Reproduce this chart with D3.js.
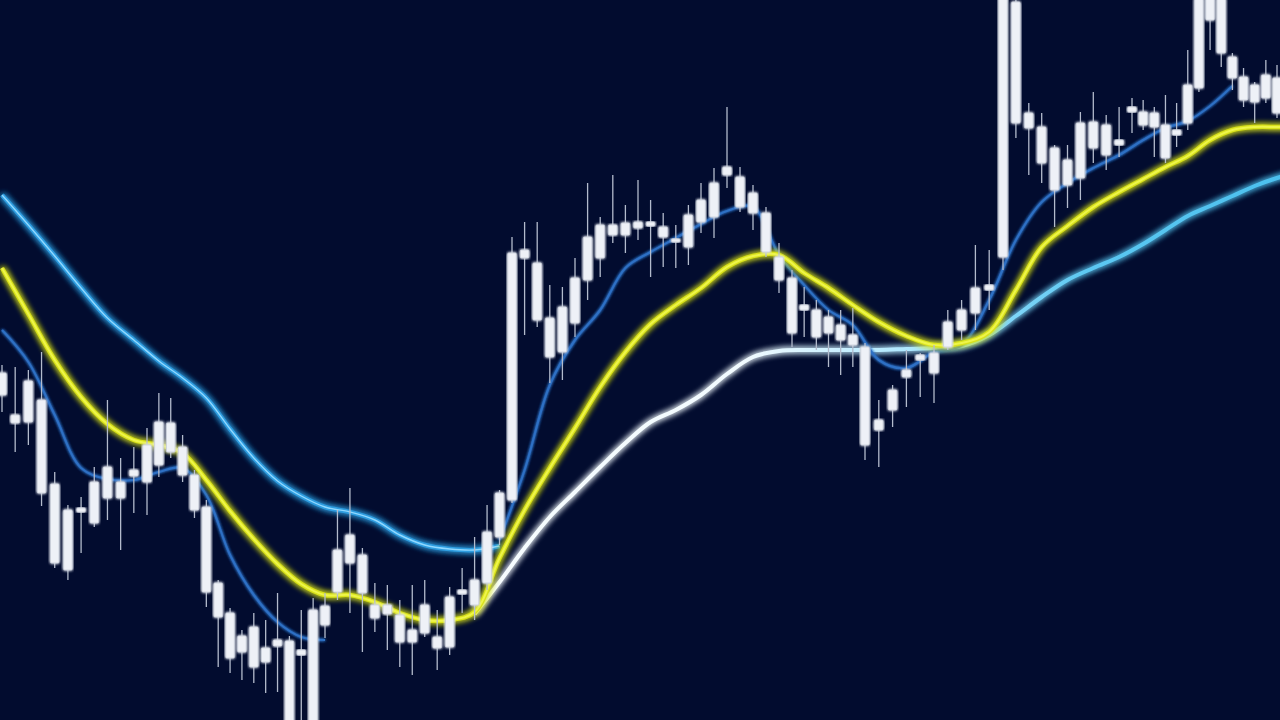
<!DOCTYPE html>
<html>
<head>
<meta charset="utf-8">
<script src="https://cdn.jsdelivr.net/npm/d3@7/dist/d3.min.js"></script>
<style>
  html, body { margin: 0; padding: 0; background: #020c2f; overflow: hidden; }
  svg { display: block; }
</style>
</head>
<body>
<svg id="chart" width="1280" height="720"></svg>
<script>
// ---------------- DATA ----------------
// Candles (one per period, in order)
const highs = [135.5,135.3,135.0,136.8,124.8,121.5,122.3,125.3,132.0,126.2,127.3,129.2,132.7,132.2,128.5,125.0,122.0,114.0,111.2,109.0,110.7,110.0,112.7,108.4,111.0,112.2,112.7,121.0,123.2,117.2,113.7,113.5,112.0,113.5,114.0,111.0,113.3,115.2,118.3,121.5,123.0,148.3,149.8,149.8,143.5,143.3,146.2,153.7,150.3,154.5,151.5,154.0,152.0,150.7,149.5,151.5,153.7,155.2,161.3,155.3,153.5,151.3,147.7,145.0,143.3,142.0,141.0,141.0,141.2,137.7,132.0,133.5,137.0,136.7,137.5,141.0,142.0,147.5,147.0,172.5,172.5,161.7,160.7,157.5,157.5,160.8,162.8,160.5,161.3,162.2,162.0,161.3,162.5,161.7,167.0,172.5,172.5,172.5,166.7,165.2,163.8,166.0,165.5];
const lows  = [130.8,126.8,127.5,121.4,115.2,114.0,116.7,119.3,120.0,117.0,120.7,120.5,124.3,126.2,123.8,120.2,111.3,105.3,104.7,104.0,103.7,102.7,102.8,99.0,99.5,99.0,108.2,112.0,110.7,106.8,108.8,107.0,105.3,104.5,108.3,105.0,106.5,110.7,110.0,113.0,117.5,121.7,138.5,139.3,133.7,134.0,138.3,142.0,144.3,147.7,146.7,148.0,144.3,145.3,145.2,145.5,148.7,148.2,153.2,150.8,149.0,146.3,142.7,137.3,138.3,137.0,135.3,134.5,135.3,126.0,125.3,129.3,131.3,132.3,131.7,137.0,138.0,139.0,141.0,145.0,158.2,154.5,153.7,149.3,151.2,152.0,155.7,155.0,156.3,158.7,159.0,156.3,155.7,157.3,159.0,162.8,167.0,165.3,163.0,161.3,159.7,161.7,160.2];
const opens = [132.5,129.7,129.8,132.0,123.6,121.0,120.8,119.7,122.2,123.8,124.4,123.8,125.5,126.8,127.3,124.5,121.3,113.7,110.7,108.4,109.3,107.2,107.4,107.9,106.5,111.0,109.5,112.8,115.7,116.5,111.5,111.5,110.5,109.0,108.7,108.3,107.3,112.6,111.5,113.7,118.3,122.0,146.2,140.0,140.2,141.3,139.7,144.0,146.2,148.5,148.5,149.2,149.4,148.3,147.8,147.3,149.8,150.3,154.5,151.3,150.7,150.7,146.3,144.2,141.0,141.0,140.3,139.5,137.5,137.3,130.0,131.0,134.3,136.0,134.7,137.3,139.0,140.7,143.0,146.3,171.8,159.2,159.3,157.2,153.5,154.2,157.2,156.5,157.5,160.8,159.5,159.3,159.5,158.5,159.7,163.2,170.0,172.2,166.3,164.3,161.8,162.2,160.7];
const closes = [134.7,130.5,133.9,122.7,115.7,115.0,121.2,123.8,125.3,122.2,125.0,127.5,129.8,129.7,124.5,121.0,112.8,110.3,106.2,106.8,105.3,105.8,108.0,99.5,107.0,99.5,111.4,117.0,118.5,112.7,110.2,110.6,107.8,107.8,111.5,107.2,112.3,113.0,114.0,118.8,122.7,146.7,147.0,145.7,136.3,136.8,144.2,148.3,149.5,149.5,149.7,149.8,149.8,149.3,148.1,150.5,152.0,153.7,155.3,154.3,152.7,146.8,144.0,138.7,141.5,138.3,138.7,138.0,138.5,127.5,129.0,133.0,135.0,136.5,136.7,139.8,141.0,143.2,143.5,172.5,159.7,160.7,155.7,153.0,156.0,159.7,159.8,159.5,158.0,161.3,160.8,160.7,156.2,159.0,163.5,172.2,172.5,166.7,164.2,162.0,163.5,164.5,164.2];

// Moving averages, sampled at these candle positions
const maIndex = [0,2,4,6,8,10,12,14,16,18,20,22,24,26,28,30,32,34,36,38,40,42,44,46,48,50,52,54,56,58,60,62,64,66,68,70,72,74,76,78,80,82,84,86,88,90,92,94,96,98,100,102,103];
const maYellow = [145.2,140.6,136.0,132.3,129.6,128.0,127.5,126.7,124.0,120.9,118.1,115.6,113.6,112.5,112.5,111.8,110.7,110.0,110.0,110.8,116.2,121.0,125.2,129.2,133.3,136.8,139.6,141.5,143.2,145.3,146.4,146.5,144.7,143.2,141.5,139.8,138.4,137.5,137.7,138.8,143.0,147.3,149.4,151.3,152.8,154.1,155.3,156.4,158.0,159.0,159.3,159.3,159.3];
const maCyan = [152.5,149.5,146.4,143.2,140.2,138.0,135.9,134.2,132.2,129.1,126.2,123.9,122.4,121.3,120.8,120.0,118.5,117.5,117.1,117.0,117.4,null,null,null,null,null,null,null,null,null,null,null,null,null,null,null,null,null,null,null,null,null,null,null,null,null,null,null,null,null,null,null,null];
const maWhite = [null,null,null,null,null,null,null,null,null,null,null,null,null,null,null,null,null,null,null,110.6,113.8,117.2,120.3,122.8,125.3,127.7,129.8,131.0,132.5,134.6,136.3,136.9,137.0,137.0,137.0,137.0,137.1,137.2,137.4,138.5,140.4,142.3,144.0,145.2,146.3,147.6,149.0,150.4,151.4,152.4,153.4,154.2,154.5];
const maFast = [139.0,135.8,130.5,125.2,124.1,124.0,124.8,125.2,122.5,116.5,112.5,109.8,108.3,108.0,null,null,null,null,null,null,118.0,125.0,133.5,138.0,141.0,145.2,146.8,148.2,149.6,150.9,151.3,146.5,143.5,141.0,139.5,136.0,135.2,136.8,137.5,142.0,148.0,151.8,153.7,155.2,156.5,158.0,159.2,159.9,161.4,163.4,null,null,null];

// ---------------- CHART ----------------
const W = 1280, H = 720;
const svg = d3.select('#chart');

const x = d3.scaleLinear()
  .domain([0, 11, 26, 41, 56, 63, 69, 79, 89, 102])
  .range([2, 147, 325, 512, 701, 792, 865, 1003, 1132, 1277]);
const y = d3.scaleLinear().domain([100, 172]).range([H, 0]);

svg.append('rect').attr('width', W).attr('height', H).attr('fill', '#020c2f');

const defs = svg.append('defs');
function glow(id, std) {
  const f = defs.append('filter').attr('id', id)
    .attr('x', '-20%').attr('y', '-20%').attr('width', '140%').attr('height', '140%');
  f.append('feGaussianBlur').attr('in', 'SourceGraphic').attr('stdDeviation', std).attr('result', 'b');
  const m = f.append('feMerge');
  m.append('feMergeNode').attr('in', 'b');
  m.append('feMergeNode').attr('in', 'b');
  m.append('feMergeNode').attr('in', 'SourceGraphic');
}
glow('glowL', 3);
glow('glowS', 1.5);

const grad = defs.append('linearGradient').attr('id', 'whiteGrad')
  .attr('gradientUnits', 'userSpaceOnUse')
  .attr('x1', 0).attr('y1', 0).attr('x2', W).attr('y2', 0);
grad.append('stop').attr('offset', '0%').attr('stop-color', '#ffffff');
grad.append('stop').attr('offset', '58%').attr('stop-color', '#f2fbff');
grad.append('stop').attr('offset', '72%').attr('stop-color', '#a8e6ff');
grad.append('stop').attr('offset', '85%').attr('stop-color', '#5cc8f2');
grad.append('stop').attr('offset', '100%').attr('stop-color', '#4cc0ee');

const maPts = arr => maIndex.map((t, i) => [t, arr[i]]);
const line = d3.line()
  .defined(d => d[1] != null)
  .x(d => x(d[0])).y(d => y(d[1]))
  .curve(d3.curveCatmullRom.alpha(0.5));

const gLines = svg.append('g');
// cyan (left slow MA)
gLines.append('path').attr('d', line(maPts(maCyan)))
  .attr('fill', 'none').attr('stroke', '#2f9de0').attr('stroke-width', 4.5)
  .attr('filter', 'url(#glowL)');
gLines.append('path').attr('d', line(maPts(maCyan)))
  .attr('fill', 'none').attr('stroke', '#8fd8ff').attr('stroke-width', 1.4);
// white / light-cyan (right slow MA)
gLines.append('path').attr('d', line(maPts(maWhite)))
  .attr('fill', 'none').attr('stroke', 'url(#whiteGrad)').attr('stroke-width', 4)
  .attr('filter', 'url(#glowL)');
// fast blue MA
gLines.append('path').attr('d', line(maPts(maFast)))
  .attr('fill', 'none').attr('stroke', '#2d6fc4').attr('stroke-width', 2.2)
  .attr('filter', 'url(#glowS)');
// yellow MA
gLines.append('path').attr('d', line(maPts(maYellow)))
  .attr('fill', 'none').attr('stroke', '#d9e21a').attr('stroke-width', 4.5)
  .attr('filter', 'url(#glowL)');
gLines.append('path').attr('d', line(maPts(maYellow)))
  .attr('fill', 'none').attr('stroke', '#eef54a').attr('stroke-width', 2);

// candles
const candles = highs.map((h, i) => ({ i, h, l: lows[i], o: opens[i], c: closes[i] }));
const gC = svg.append('g');
gC.selectAll('line.wick').data(candles).join('line')
  .attr('class', 'wick')
  .attr('x1', d => x(d.i)).attr('x2', d => x(d.i))
  .attr('y1', d => y(d.h)).attr('y2', d => y(d.l))
  .attr('stroke', '#b3bbcc').attr('stroke-width', 1.3);
const bw = 8.5;
gC.selectAll('rect.body').data(candles).join('rect')
  .attr('class', 'body')
  .attr('x', d => x(d.i) - bw / 2)
  .attr('width', bw)
  .attr('y', d => y(Math.max(d.o, d.c)))
  .attr('height', d => Math.max(2, Math.abs(y(d.o) - y(d.c))))
  .attr('rx', 1)
  .attr('fill', '#eef1f7').attr('stroke', '#c3c9d6').attr('stroke-width', 0.7)
  .attr('filter', 'url(#glowS)');
</script>
</body>
</html>
